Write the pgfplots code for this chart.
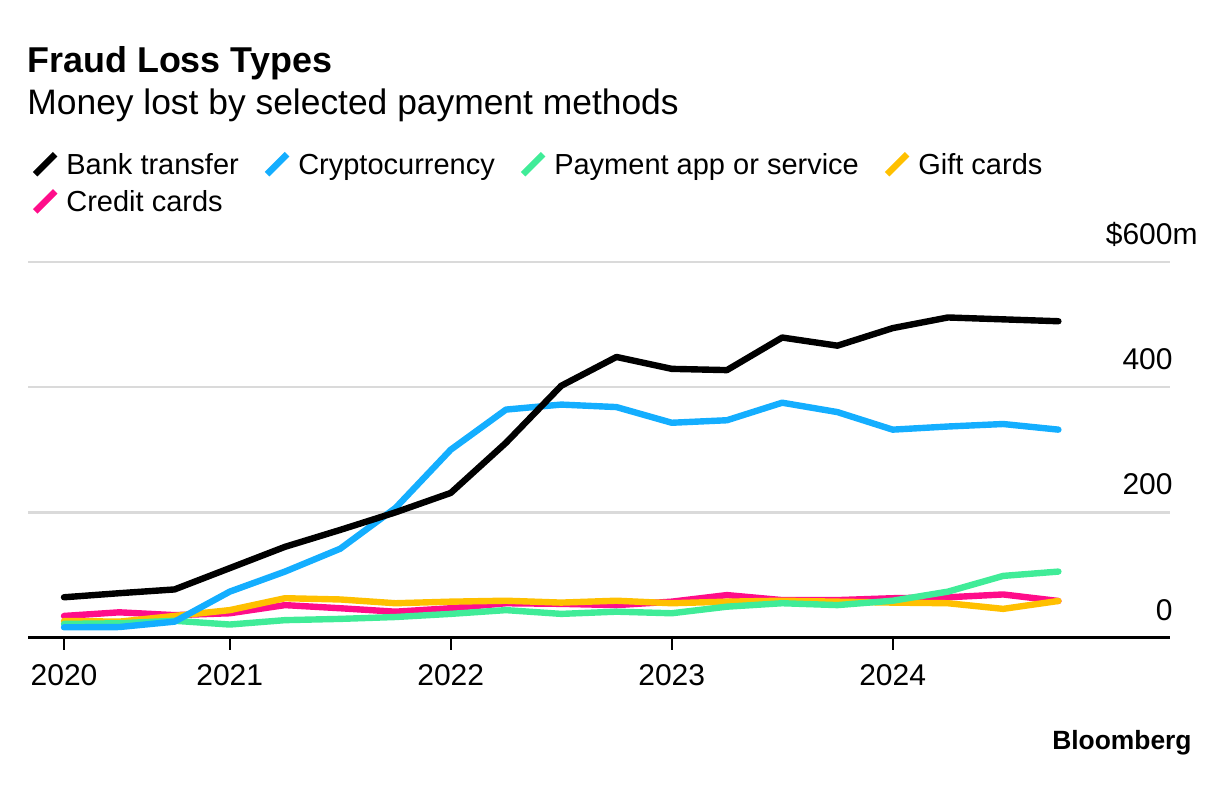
\documentclass[border=0pt]{standalone}
\usepackage{fontspec}
\setmainfont{Liberation Sans}
\usepackage{pgfplots}
\usepackage{pgfplotstable}
\pgfplotsset{compat=1.18}
\definecolor{cBank}{HTML}{000000}
\definecolor{cCrypto}{HTML}{14AEFF}
\definecolor{cPay}{HTML}{40EC98}
\definecolor{cGift}{HTML}{FFC000}
\definecolor{cCredit}{HTML}{FF0D8A}
\definecolor{cGrid}{HTML}{DADADA}

% quarter index: 0 = 2020 Q2 ... 18 = 2024 Q4; values in $m
\pgfplotstableread{
i  bank  crypto  pay   gift  credit
0  64.5  16.6    22    26.7  34.7
1  71    17      23    25.6  40.5
2  77    25.6    27    34.7  36
3  111   73.5    21    44    39
4  145   105.5   28    63    52
5  172   142     30    61    47
6  200   207     33    55    41.5
7  231   300     38    57.5  47
8  311   364     44    59    55
9  402   372     38    56    54
10 448   368     41.5  59    52
11 429   343     39    55    57.5
12 427   347     49.5  57.5  68
13 479   375     55    59    60
14 466   360     52    57.5  60
15 494   332     59    56    63
16 511   337     73.5  55    64.5
17 508   341     98.6  46    69
18 505   332     105.5 58.6  58.6
}\data

\begin{document}
\begin{tikzpicture}[x=1pt,y=1pt]
\path[use as bounding box] (0,0) rectangle (615,401);
\node[anchor=base west, inner sep=0pt, font=\fontsize{17.95}{20}\selectfont\bfseries] at (13.5,364.5) {Fraud Loss Types};
\node[anchor=base west, inner sep=0pt, font=\fontsize{17.7}{20}\selectfont] at (13.5,343.5) {Money lost by selected payment methods};
\node[anchor=base east, inner sep=0pt, font=\fontsize{13.2}{15}\selectfont\bfseries] at (596,26) {Bloomberg};
\begin{axis}[
  at={(14pt,82.15pt)}, anchor=south west,
  width=571pt, height=188pt, scale only axis,
  xmin=-0.652, xmax=20.02, ymin=0, ymax=600,
  axis x line*=bottom, axis y line*=right,
  x axis line style={-, line width=1.25pt, black},
  y axis line style={draw=none},
  xtick={0,3,7,11,15}, xticklabels={2020,2021,2022,2023,2024},
  ytick={0,200,400,600}, yticklabels={0,200,400,\$600\rlap{m}},
  tick align=outside, major tick length=6pt,
  xtick style={line width=1pt, black},
  ytick style={draw=none},
  ymajorgrids=true,
  major grid style={cGrid, line width=1.2pt},
  /pgf/number format/assume math mode=true,
  xticklabel style={font=\fontsize{15}{18}\selectfont, anchor=base, inner sep=0pt, yshift=-18.15pt},
  yticklabel style={font=\fontsize{15}{18}\selectfont, anchor=base east, inner sep=0pt, xshift=-4.5pt, yshift=8.75pt},
  legend columns=4,
  legend style={draw=none, fill=none, at={(0.0035,1.2944)}, anchor=north west,
    inner sep=0pt, outer sep=0pt, column sep=4pt, row sep=3.5pt,
    font=\fontsize{14.5}{17}\selectfont,
    cells={anchor=base west},
    nodes={inner sep=0pt, text height=11pt, text depth=3.5pt},
    /tikz/every even column/.append style={column sep=12.5pt}},
  legend image code/.code={\draw[#1, line cap=butt] (0pt,0pt) -- (10pt,10pt);},
]
\addlegendimage{cBank, line width=3.2pt}
\addlegendentry{Bank transfer}
\addlegendimage{cCrypto, line width=3.2pt}
\addlegendentry{Cryptocurrency}
\addlegendimage{cPay, line width=3.2pt}
\addlegendentry{Payment app or service}
\addlegendimage{cGift, line width=3.2pt}
\addlegendentry{Gift cards}
\addlegendimage{cCredit, line width=3.2pt}
\addlegendentry{Credit cards}

\addplot[cCredit, line width=3.2pt, line join=round, line cap=round, forget plot] table[x=i, y=credit] {\data};
\addplot[cGift, line width=3.2pt, line join=round, line cap=round, forget plot] table[x=i, y=gift] {\data};
\addplot[cPay, line width=3.2pt, line join=round, line cap=round, forget plot] table[x=i, y=pay] {\data};
\addplot[cCrypto, line width=3.2pt, line join=round, line cap=round, forget plot] table[x=i, y=crypto] {\data};
\addplot[cBank, line width=3.2pt, line join=round, line cap=round, forget plot] table[x=i, y=bank] {\data};
\end{axis}
\end{tikzpicture}
\end{document}
